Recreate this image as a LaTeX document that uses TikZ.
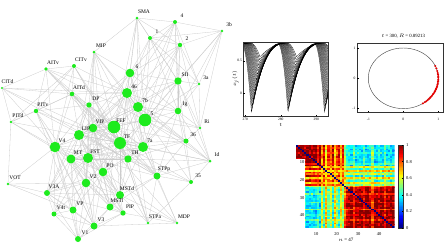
\documentclass[tikz,border=0pt]{standalone}
\usepackage{fontspec}
\setmainfont{Liberation Serif}
\usetikzlibrary{backgrounds}
\definecolor{edgegray}{gray}{0.8}
\definecolor{nodegreen}{RGB}{30,235,30}
\begin{document}
\begin{tikzpicture}[x=1pt,y=-1pt,
  declare function={ww(\u,\a)=(\u<\a)*\u/\a+(1-(\u<\a))*(1-\u)/(1-\a);},
  edge/.style={draw=edgegray,line width=0.3pt},
  glabel/.style={font=\fontsize{5.5}{6}\selectfont,inner sep=0pt},
  smalltick/.style={font=\fontsize{3.6}{4}\selectfont,inner sep=0pt},
  midtick/.style={font=\fontsize{4.5}{5}\selectfont,inner sep=0pt},
  axbox/.style={draw=black!80,line width=0.3pt}]
\useasboundingbox (0,0) rectangle (448,252);

% ---------------- graph nodes ----------------
\foreach \n/\x/\y/\r/\lab in {
 SMA/137/18/1.5/SMA, a4/175/22/2/4, a3b/222/31/1.3/3b, a1/150/38/2/1, a2/180/45/2.2/2,
 MIP/94/52/1.5/MIP, AITv/46/69/1.8/AITv, CITv/74/66/2/CITv, AITd/72/94/2.3/AITd,
 DP/89/105/2.7/DP, PITv/36/111/2.2/PITv, PITd/11/122/1.4/PITd, a6/130/73/4.3/6,
 SII/178/81/3.7/SII, a3a/199/84/1.4/3a, a46/127/93/5/46, a7b/138/107/5/7b,
 a5/145/120/6.3/5, Ig/178/111/3.3/Ig, Ri/200/128/1.3/Ri, VIP/93/128/4.3/VIP,
 FEF/114/127/6.3/FEF, LIP/79/135/5/LIP, V4/55/147/5.3/V4, TF/120/143/6/TF,
 a7a/143/147/5/7a, a36/186/141/2.5/36, MT/71/159/4.5/MT, FST/88/158/5/FST,
 TH/128/159/3.7/TH, Id/210/161/1.5/Id, PO/103/172/4.3/PO, VOT/8/184/1.3/VOT,
 V2/86/183/4.3/V2, STPp/157/176/3.5/STPp, a35/191/182/2/35, V3A/47/193/3/V3A,
 MSTd/120/195/4/MSTd, MSTl/110/207/3.5/MSTl, PIP/123/213/2.7/PIP, V4t/54/214/2.5/V4t,
 VP/73/210/3.5/VP, V3/94/226/3.5/V3, V1/78/239/3/V1, STPa/148/223/1.3/STPa, MDP/177/223/1.3/MDP}
{
  \node[circle,fill=nodegreen,inner sep=0pt,minimum size={2*\r*1pt}] (n\n) at (\x,\y) {};
  \node[glabel] at (\x+7,\y-6.5) {\lab};
}
\node[circle,fill=nodegreen,inner sep=0pt,minimum size=2.4pt] (nCITd) at (2,88) {};
\node[glabel] at (7.5,81.5) {CITd};

% ---------------- graph edges ----------------
\begin{scope}[on background layer]
\foreach \p/\q in {
SMA/a4, SMA/a1, SMA/a6, SMA/a46, SMA/a5, SMA/FEF, SMA/a7b, SMA/SII, SMA/a2, SMA/MIP,
a4/a3b, a4/a1, a4/a2, a4/a6, a4/SII, a4/a5, a4/a3a, a4/a7b, a4/Ig, a4/a46,
a3b/a1, a3b/a2, a3b/SII, a3b/a3a, a3b/Ig, a3b/a5, a3b/Ri,
a1/a2, a1/a5, a1/a7b, a1/SII, a1/a6, a1/a3a, a1/a46, a1/Ig,
a2/a5, a2/a7b, a2/SII, a2/Ig, a2/a3a, a2/a6, a2/VIP, a2/a7a, a2/Ri,
a6/a46, a6/a7b, a6/a5, a6/FEF, a6/SII, a6/VIP, a6/LIP, a6/a7a, a6/Ig, a6/DP, a6/TF, a6/MIP,
SII/a3a, SII/Ig, SII/a7b, SII/a5, SII/Ri, SII/Id, SII/a46, SII/a7a, SII/VIP, SII/a36,
a3a/Ig, a3a/a5, a3a/Ri,
a46/a7b, a46/a5, a46/FEF, a46/VIP, a46/LIP, a46/TF, a46/a7a, a46/TH, a46/AITd, a46/DP, a46/STPp, a46/a36, a46/a35, a46/STPa, a46/Ig, a46/FST, a46/MSTd, a46/AITv, a46/CITv, a46/CITd, a46/MIP,
a7b/a5, a7b/FEF, a7b/VIP, a7b/a7a, a7b/Ig, a7b/Ri, a7b/Id, a7b/LIP, a7b/TF, a7b/STPp, a7b/a36, a7b/TH,
a5/FEF, a5/VIP, a5/LIP, a5/a7a, a5/Ig, a5/Ri, a5/TF, a5/PO, a5/MIP, a5/Id,
Ig/Ri, Ig/Id, Ig/a36, Ig/a35, Ig/TH, Ig/a7a, Ig/STPp,
Ri/Id, Ri/a36,
VIP/FEF, VIP/LIP, VIP/a7a, VIP/DP, VIP/MT, VIP/FST, VIP/MSTd, VIP/MSTl, VIP/PO, VIP/V2, VIP/V3, VIP/TF, VIP/V4, VIP/PIP, VIP/STPp, VIP/MDP, VIP/MIP,
FEF/LIP, FEF/TF, FEF/a7a, FEF/TH, FEF/DP, FEF/MT, FEF/FST, FEF/PO, FEF/V4, FEF/STPp, FEF/MSTd, FEF/MSTl, FEF/AITd, FEF/STPa, FEF/a36, FEF/AITv, FEF/CITv, FEF/MIP,
LIP/DP, LIP/a7a, LIP/V4, LIP/MT, LIP/FST, LIP/PO, LIP/V2, LIP/V3, LIP/V3A, LIP/TF, LIP/MSTd, LIP/MSTl, LIP/PIP, LIP/AITd, LIP/TH, LIP/MIP,
V4/DP, V4/PITv, V4/PITd, V4/VOT, V4/MT, V4/FST, V4/V2, V4/V3, V4/V3A, V4/VP, V4/V4t, V4/V1, V4/TF, V4/TH, V4/AITd, V4/PO, V4/CITv, V4/CITd, V4/AITv,
TF/a7a, TF/TH, TF/a36, TF/a35, TF/STPp, TF/STPa, TF/FST, TF/MT, TF/PO, TF/DP, TF/AITd, TF/Id, TF/V2, TF/MSTd, TF/AITv, TF/CITv, TF/PITv, TF/CITd,
a7a/TH, a7a/a36, a7a/STPp, a7a/PO, a7a/DP, a7a/MSTd, a7a/FST, a7a/MT, a7a/MDP, a7a/Id, a7a/MIP,
a36/TH, a36/a35, a36/Id, a36/STPp, a36/AITv,
MT/FST, MT/V2, MT/V3, MT/V3A, MT/VP, MT/V4t, MT/V1, MT/PO, MT/MSTd, MT/MSTl, MT/DP, MT/PIP, MT/TH, MT/PITd,
FST/V2, FST/PO, FST/TH, FST/MSTd, FST/MSTl, FST/V4t, FST/DP, FST/STPp, FST/V3A,
TH/PO, TH/STPp, TH/a35, TH/Id, TH/STPa, TH/MSTd, TH/AITv, TH/CITv, TH/AITd, TH/PITv,
Id/a35, Id/STPp,
PO/V2, PO/V3, PO/V3A, PO/MSTd, PO/MSTl, PO/PIP, PO/V1, PO/DP, PO/MDP, PO/VP, PO/MIP,
VOT/V2, VOT/V3A, VOT/PITd, VOT/VP,
V2/V3, V2/V3A, V2/VP, V2/V1, V2/V4t, V2/MSTl, V2/PIP, V2/MSTd, V2/DP, V2/PITv, V2/MIP,
STPp/a35, STPp/STPa, STPp/MSTd, STPp/MDP, STPp/MSTl, STPp/CITd, STPp/AITd,
V3A/VP, V3A/V1, V3A/V3, V3A/V4t, V3A/DP, V3A/PIP, V3A/MSTd,
MSTd/MSTl, MSTd/PIP, MSTd/STPa, MSTd/MDP,
MSTl/PIP, MSTl/V3, MSTl/V1,
PIP/V3, PIP/V1, PIP/MDP,
V4t/VP, V4t/V1, V4t/V3,
VP/V3, VP/V1, V3/V1, V3/MDP,
DP/AITd, DP/PITv, DP/MIP,
AITd/PITv, AITd/PITd, AITd/STPa, AITd/AITv, AITd/CITv, AITd/CITd,
PITv/PITd, PITv/V3, PITv/VP, PITv/AITv, PITv/CITv,
PITd/TF, PITd/CITd, PITd/CITv,
AITv/CITd, AITv/CITv, a35/STPa}
{ \draw[edge] (n\p) -- (n\q); }
\end{scope}

% ---------------- time series panel ----------------
\begin{scope}
\clip (243.3,41.7) rectangle (328,116);
\foreach \k in {0,...,19}{
  \pgfmathsetmacro\dep{14+\k*2.85}
  \pgfmathsetmacro\xm{260-\k*0.45}
  \pgfmathsetmacro\tp{42.8+0.06*\k}
  \draw[black,line width=0.28pt] plot[domain=243.3:328,samples=220,variable=\t]
     (\t,{\tp+\dep*(ww(frac((\t-\xm+9.86+365)/36.5),0.27))^2});
}
\end{scope}
\draw[axbox] (243.3,41.7) rectangle (328,116);
\foreach \xx/\tl in {245.3/270,280.7/280,316.3/290}{
  \draw[black,line width=0.25pt] (\xx,116) -- (\xx,114.6);
  \node[smalltick] at (\xx,119.6) {\tl};
}
\foreach \yy/\tl in {60.7/0.5,93.3/0}{
  \draw[black,line width=0.25pt] (243.3,\yy) -- (244.7,\yy);
  \node[smalltick,anchor=east] at (242,\yy) {\tl};
}
\node[smalltick,rotate=90] at (235.5,79) {$x_j(t)$};
\node[smalltick] at (280.7,124.5) {$t$};

% ---------------- circle panel ----------------
\draw[axbox] (357.3,43.3) rectangle (443.3,112.3);
\draw[black!70,line width=0.45pt] (403.3,78.3) ellipse [x radius=35,y radius=30.3];
\foreach \ang in {24,19,14,10,7,4,1,-3,-6,-9,-12,-15,-17,-20,-22,-25,-27,-30,-32,-35,-38,-40,-43,-46,-49,-52,-56}{
  \fill[red!90!black] ({403.3+35*cos(\ang)},{78.3-30.3*sin(\ang)}) circle (1.15);
}
\foreach \xx/\tl in {368.3/-1,403.3/0,438.3/1}{
  \draw[black,line width=0.25pt] (\xx,112.3) -- (\xx,110.9);
  \node[smalltick] at (\xx,119.3) {\tl};
}
\foreach \yy/\tl in {48.3/1,78.3/0,108.3/-1}{
  \draw[black,line width=0.25pt] (357.3,\yy) -- (358.7,\yy);
  \node[smalltick,anchor=east] at (355.5,\yy) {\tl};
}
\node[font=\fontsize{4.8}{5}\selectfont,inner sep=0pt] at (403.3,35.7) {$t$ = 300, $R$ = 0.89213};

% ---------------- heat map ----------------
\foreach \k/\m in {1/1,2/0.95,3/1,4/1,5/0.9,6/1,7/1,8/0.95,9/1,10/1,11/0.85,12/1,
  13/0.6,14/0.9,15/0.45,16/0.8,17/0.65,18/0.95,19/0.5,20/0.75,21/0.9,22/0.55,23/0.8,
  24/0.3,25/0.1,26/0.05,27/0,28/0.2,29/0,30/0.05,31/0,32/0,33/0.15,34/0,35/0,36/0.05,
  37/0.25,38/0,39/0,40/0.1,41/0,42/0,43/0.2,44/0,45/0.05,46/0,47/0}
{ \expandafter\xdef\csname hmval\k\endcsname{\m} }
\begin{scope}
\clip (296,145.2) rectangle (394.5,228);
\foreach \ii in {1,...,47}{
  \foreach \jj in {1,...,47}{
    \edef\ma{\csname hmval\ii\endcsname}
    \edef\mb{\csname hmval\jj\endcsname}
    \ifnum\ii=\jj
      \def\vv{0}
    \else
      \pgfmathsetmacro\vv{min(1,max(0.08,0.33+0.67*(\ma*\mb+(1-\ma)*(1-\mb))+0.045*sin(29*mod(\ii*\jj,360)+53*(\ii+\jj))+0.045*sin(37*mod(\ii*\ii+\jj*\jj,360))))}
    \fi
    \pgfmathsetmacro\cR{max(0,min(1,1.5-abs(4*\vv-3)))}
    \pgfmathsetmacro\cG{max(0,min(1,1.5-abs(4*\vv-2)))}
    \pgfmathsetmacro\cB{max(0,min(1,1.5-abs(4*\vv-1)))}
    \definecolor{cc}{rgb}{\cR,\cG,\cB}
    \fill[cc] ({296+(\jj-1)*2.096},{145.2+(\ii-1)*1.762}) rectangle ++(2.2,1.85);
  }
}
\end{scope}
\fill[white] (295.5,159) rectangle (305,228.5);
\foreach \yy/\tl in {162/10,180/20,198/30,215/40}{
  \node[midtick,anchor=east] at (304.5,\yy) {\tl};
}
\foreach \xx/\tl in {316/10,336.5/20,358/30,379/40}{
  \node[midtick] at (\xx,234) {\tl};
}
\node[font=\fontsize{5}{6}\selectfont,inner sep=0pt] at (346,239.5) {$n$ = 47};
% colour bar
\foreach \s in {0,...,63}{
  \pgfmathsetmacro\vv{(\s+0.5)/64}
  \pgfmathsetmacro\cR{max(0,min(1,1.5-abs(4*\vv-3)))}
  \pgfmathsetmacro\cG{max(0,min(1,1.5-abs(4*\vv-2)))}
  \pgfmathsetmacro\cB{max(0,min(1,1.5-abs(4*\vv-1)))}
  \definecolor{cc}{rgb}{\cR,\cG,\cB}
  \fill[cc] (398,{228-(\s+1)*83/64-0.1}) rectangle (403,{228-\s*83/64});
}
\draw[axbox] (398,145) rectangle (403,228);
\foreach \yy/\tl in {145/1,161.6/0.8,178.2/0.6,194.8/0.4,211.4/0.2,228/0}{
  \draw[black,line width=0.25pt] (403,\yy) -- (402,\yy);
  \node[midtick,anchor=west] at (406,\yy) {\tl};
}
\end{tikzpicture}
\end{document}
